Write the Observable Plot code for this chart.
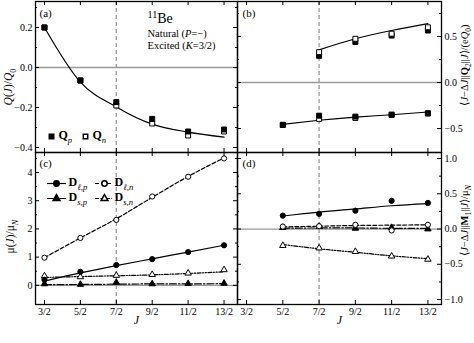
<!DOCTYPE html>
<html><head><meta charset="utf-8">
<script src="https://cdn.jsdelivr.net/npm/d3@7"></script>
<script src="https://cdn.jsdelivr.net/npm/@observablehq/plot@0.6"></script>
<style>
body{margin:0;background:#fff;}
#fig{position:relative;width:474px;height:343px;overflow:hidden;}
#fig svg{position:absolute;left:0;top:0;}
</style></head><body><div id="fig"></div>
<script>
// ---------- data ----------
const J = [1.5, 2.5, 3.5, 4.5, 5.5, 6.5];
const jLabels = ["3/2", "5/2", "7/2", "9/2", "11/2", "13/2"];

// (a) Q(J)/Q0
const qP  = [0.20, -0.065, -0.173, -0.257, -0.320, -0.310];
const qN  = [0.20, -0.065, -0.190, -0.280, -0.340, -0.320];
const qTh = [0.20, -0.073, -0.197, -0.283, -0.323, -0.348];

// (b) <J-dJ||Q2||J>/(eQ0)
const Jup   = [3.5, 4.5, 5.5, 6.5];
const bPup  = [0.29, 0.44, 0.51, 0.565];
const bNup  = [0.33, 0.475, 0.53, 0.60];
const bThUp = [0.355, 0.475, 0.565, 0.64];
const Jlo   = [2.5, 3.5, 4.5, 5.5, 6.5];
const bPlo  = [-0.46, -0.36, -0.37, -0.35, -0.335];
const bNlo  = [-0.46, -0.395, -0.385, -0.35, -0.335];
const bThLo = [-0.455, -0.41, -0.375, -0.35, -0.32];

// (c) mu(J)/muN
const dlp   = [0.20, 0.48, 0.72, 0.93, 1.18, 1.42];
const dlpTh = [0.15, 0.44, 0.70, 0.94, 1.18, 1.42];
const dln   = [0.98, 1.68, 2.32, 3.15, 3.85, 4.50];
const dlnTh = [0.98, 1.68, 2.36, 3.12, 3.86, 4.52];
const dsp   = [0.05, 0.03, 0.10, 0.05, 0.06, 0.07];
const dspTh = [0.02, 0.03, 0.04, 0.05, 0.05, 0.06];
const dsn   = [0.33, 0.30, 0.35, 0.38, 0.43, 0.55];
const dsnTh = [0.28, 0.31, 0.34, 0.37, 0.42, 0.48];

// (d) <J-dJ||M1||J>/muN
const Jd    = [2.5, 3.5, 4.5, 5.5, 6.5];
const mlp   = [0.19, 0.215, 0.26, 0.40, 0.37];
const mlpTh = [0.185, 0.24, 0.285, 0.33, 0.36];
const mln   = [0.035, 0.04, 0.06, -0.02, 0.06];
const mlnTh = [0.03, 0.04, 0.05, 0.055, 0.06];
const msp   = [0.02, 0.035, 0.01, 0.02, 0.0];
const mspTh = [0.01, 0.015, 0.015, 0.01, 0.01];
const msn   = [-0.235, -0.27, -0.32, -0.385, -0.43];
const msnTh = [-0.22, -0.28, -0.33, -0.38, -0.42];

// ---------- layout ----------
const W = 474, H = 343, X0 = 35, XM = 237, X1 = 441, Y0 = 1, YM = 152, Y1 = 304;
const xDomain = [1.25, 6.875];
const rows = (xs, ys) => xs.map((x, i) => ({x, y: ys[i]}));
const fmt1 = d => d.toFixed(1).replace("-", "\u2212");
const fmt0 = d => String(d);
const FONT = "Liberation Serif";
const GRAY = "#9a9a9a";
const DASH = {ln: "4,2", sp: "7,2,1.5,2", sn: "4,1.5,1.2,1.5,1.2,1.5"};

function panel({l, r, t, b, yDomain, yMajor, yMinor, yFormat, yAnchor, xLabels, marks}) {
  const pw = r - l, ph = b - t, tk = 4, tm = 2;
  const ticks = [
    Plot.tickY(yMajor, {y: d => d, insetRight: pw - tk}),
    Plot.tickY(yMajor, {y: d => d, insetLeft: pw - tk}),
    Plot.tickY(yMinor, {y: d => d, insetRight: pw - tm}),
    Plot.tickY(yMinor, {y: d => d, insetLeft: pw - tm}),
    Plot.tickX(J, {x: d => d, insetTop: ph - tk}),
    Plot.tickX(J, {x: d => d, insetBottom: ph - tk})
  ];
  const xOpt = {domain: xDomain};
  if (!xLabels) xOpt.axis = null;
  return Plot.plot({
    width: W, height: H,
    marginLeft: l, marginRight: W - r, marginTop: t, marginBottom: H - b,
    style: {background: "transparent", fontFamily: FONT, fontSize: "10px", color: "black", overflow: "visible"},
    x: xOpt,
    y: {domain: yDomain},
    marks: [
      Plot.ruleY([0], {stroke: GRAY, strokeWidth: 1.3}),
      Plot.ruleX([3.5], {stroke: GRAY, strokeWidth: 1.3, strokeDasharray: "4,3"}),
      ...marks,
      ...ticks,
      Plot.frame({stroke: "black", strokeWidth: 1.3}),
      Plot.axisY({ticks: yMajor, anchor: yAnchor, tickSize: 0, tickPadding: 3, tickFormat: yFormat, label: null, fontSize: 10}),
      xLabels ? Plot.axisX({ticks: J, tickSize: 0, tickPadding: 3, tickFormat: d => jLabels[J.indexOf(d)], label: null, fontSize: 10}) : null
    ]
  });
}

const sq = (data, filled) => Plot.dot(data, {x: "x", y: "y", symbol: "square", r: 2.8, fill: filled ? "black" : "white", stroke: "black", strokeWidth: 1});
const sym = (data, symbol, filled, r = 2.6) => Plot.dot(data, {x: "x", y: "y", symbol, r, fill: filled ? "black" : "white", stroke: "black", strokeWidth: 1});
const ln = (data, dash, curve = "monotone-x") => Plot.line(data, {x: "x", y: "y", curve, stroke: "black", strokeWidth: 1.2, strokeDasharray: dash});
const label = (s, o) => Plot.text([s], {text: d => d, textAnchor: "start", lineAnchor: "middle", ...o});

// (a)
const aDom = [-0.425, 0.33];
const pa = panel({
  l: X0, r: XM, t: Y0, b: YM, yDomain: aDom,
  yMajor: [-0.4, -0.2, 0, 0.2], yMinor: [-0.3, -0.1, 0.1, 0.3], yFormat: fmt1, yAnchor: "left",
  marks: [
    ln(rows(J, qTh), null),
    sq(rows(J, qN), false),
    sq(rows(J, qP), true),
    label("(a)", {frameAnchor: "top-left", dx: 4, dy: 12, fontSize: 11}),
    label("^{11}Be", {frameAnchor: "top-left", dx: 112, dy: 17, fontSize: 14}),
    label("Natural (<i>P</i>=\u2212)", {frameAnchor: "top-left", dx: 112, dy: 32, fontSize: 10.5}),
    label("Excited (<i>K</i>=3/2)", {frameAnchor: "top-left", dx: 112, dy: 44, fontSize: 10.5}),
    Plot.dot([0], {frameAnchor: "top-left", dx: 16, dy: 135, symbol: "square", r: 2.5, fill: "black", stroke: "black"}),
    label("<b>Q</b>_{<i>p</i>}", {frameAnchor: "top-left", dx: 23, dy: 134, fontSize: 12}),
    Plot.dot([0], {frameAnchor: "top-left", dx: 50, dy: 135, symbol: "square", r: 2.5, fill: "white", stroke: "black"}),
    label("<b>Q</b>_{<i>n</i>}", {frameAnchor: "top-left", dx: 57, dy: 134, fontSize: 12}),
    Plot.text(["<i>Q</i>(<i>J</i>)/<i>Q</i>_{0}"], {text: d => d, frameAnchor: "left", dx: -27, dy: 10, rotate: -90, fontSize: 11.5, textAnchor: "middle", lineAnchor: "middle"})
  ]
});

// (b)
const pb = panel({
  l: XM, r: X1, t: Y0, b: YM, yDomain: [-0.76, 0.88],
  yMajor: [-0.5, 0, 0.5], yMinor: [-0.25, 0.25, 0.75], yFormat: fmt1, yAnchor: "right",
  marks: [
    ln(rows(Jup, bThUp), null, "natural"),
    ln(rows(Jlo, bThLo), null, "natural"),
    sq(rows(Jup, bPup), true),
    sq(rows(Jup, bNup), false),
    sq(rows(Jlo, bNlo), false),
    sq(rows(Jlo, bPlo), true),
    label("(b)", {frameAnchor: "top-left", dx: 5, dy: 12, fontSize: 11}),
    Plot.text(["\u27E8<i>J</i>\u2212\u0394<i>J</i>||<b>Q</b>_{2}||<i>J</i>\u27E9/(e<i>Q</i>_{0})"], {text: d => d, frameAnchor: "right", dx: 23, dy: -12, rotate: -90, fontSize: 10.5, textAnchor: "middle", lineAnchor: "middle"})
  ]
});

// (c)
const cDom = [-0.68, 4.71];
const cTop = cDom[1];
const legRule = (dy, il, ir, dash) => Plot.ruleY([cTop], {dy, insetLeft: il, insetRight: 202 - ir, stroke: "black", strokeWidth: 1.2, strokeDasharray: dash});
const legDot = (dx, dy, symbol, filled) => Plot.dot([0], {frameAnchor: "top-left", dx, dy, symbol, r: symbol === "circle" ? 2.7 : 2.5, fill: filled ? "black" : "white", stroke: "black"});
const pc = panel({
  l: X0, r: XM, t: YM, b: Y1, yDomain: cDom,
  yMajor: [0, 1, 2, 3, 4], yMinor: [0.5, 1.5, 2.5, 3.5, 4.5], yFormat: fmt0, yAnchor: "left", xLabels: true,
  marks: [
    ln(rows(J, dspTh), DASH.sp),
    ln(rows(J, dsnTh), DASH.sn),
    ln(rows(J, dlnTh), DASH.ln),
    ln(rows(J, dlpTh), null),
    sym(rows(J, dsp), "triangle", true, 2.4),
    sym(rows(J, dsn), "triangle", false, 2.4),
    sym(rows(J, dln), "circle", false),
    sym(rows(J, dlp), "circle", true),
    label("(c)", {frameAnchor: "top-left", dx: 4, dy: 11, fontSize: 11}),
    legRule(31, 12, 31, null), legDot(21, 31, "circle", true),
    label("<b>D</b>_{<i>\u2113,p</i>}", {frameAnchor: "top-left", dx: 33, dy: 30, fontSize: 12}),
    legRule(31, 60, 77, DASH.ln), legDot(69, 31, "circle", false),
    label("<b>D</b>_{<i>\u2113,n</i>}", {frameAnchor: "top-left", dx: 79, dy: 30, fontSize: 12}),
    legRule(46, 12, 31, DASH.sp), legDot(21, 46, "triangle", true),
    label("<b>D</b>_{<i>s,p</i>}", {frameAnchor: "top-left", dx: 33, dy: 45, fontSize: 12}),
    legRule(46, 60, 77, DASH.sn), legDot(69, 46, "triangle", false),
    label("<b>D</b>_{<i>s,n</i>}", {frameAnchor: "top-left", dx: 79, dy: 45, fontSize: 12}),
    Plot.text(["\u03BC(<i>J</i>)/\u03BC_{<i>N</i>}"], {text: d => d, frameAnchor: "left", dx: -25, dy: 8, rotate: -90, fontSize: 11.5, textAnchor: "middle", lineAnchor: "middle"}),
    Plot.text(["J"], {text: d => d, frameAnchor: "bottom", dy: 19, fontSize: 12, fontStyle: "italic"})
  ]
});

// (d)
const pd = panel({
  l: XM, r: X1, t: YM, b: Y1, yDomain: [-1.07, 1.085],
  yMajor: [-1, -0.5, 0, 0.5, 1], yMinor: [-0.75, -0.25, 0.25, 0.75], yFormat: fmt1, yAnchor: "right", xLabels: true,
  marks: [
    ln(rows(Jd, mspTh), DASH.sp),
    ln(rows(Jd, mlnTh), DASH.ln),
    ln(rows(Jd, msnTh), DASH.sn),
    ln(rows(Jd, mlpTh), null),
    sym(rows(Jd, msp), "triangle", true, 2.4),
    sym(rows(Jd, mln), "circle", false),
    sym(rows(Jd, msn), "triangle", false, 2.4),
    sym(rows(Jd, mlp), "circle", true),
    label("(d)", {frameAnchor: "top-left", dx: 5, dy: 11, fontSize: 11}),
    Plot.text(["\u27E8<i>J</i>\u2212\u0394<i>J</i>||<b>M</b>_{1}||<i>J</i>\u27E9/\u03BC_{<i>N</i>}"], {text: d => d, frameAnchor: "right", dx: 23, dy: -8, rotate: -90, fontSize: 10.5, textAnchor: "middle", lineAnchor: "middle"}),
    Plot.text(["J"], {text: d => d, frameAnchor: "bottom", dy: 19, fontSize: 12, fontStyle: "italic"})
  ]
});

const fig = document.getElementById("fig");
[pa, pb, pc, pd].forEach(p => fig.appendChild(p));

// rich-text: turn simple markup into tspans (italic, bold, sub/superscripts)
const NS = "http://www.w3.org/2000/svg";
fig.querySelectorAll("text").forEach(t => {
  const s = t.textContent;
  if (!/[_^]\{|<[ib]>/.test(s)) return;
  const fs = parseFloat(getComputedStyle(t).fontSize) || 11;
  const parts = s.split(/(<i>|<\/i>|<b>|<\/b>|_\{|\^\{|\})/);
  let it = false, bd = false, shift = 0, cur = 0;
  t.textContent = "";
  for (const p of parts) {
    if (p === "<i>") it = true;
    else if (p === "</i>") it = false;
    else if (p === "<b>") bd = true;
    else if (p === "</b>") bd = false;
    else if (p === "_{") shift = 0.3 * fs;
    else if (p === "^{") shift = -0.38 * fs;
    else if (p === "}") shift = 0;
    else if (p) {
      const ts = document.createElementNS(NS, "tspan");
      ts.textContent = p;
      if (it) ts.setAttribute("font-style", "italic");
      if (bd) ts.setAttribute("font-weight", "bold");
      if (shift) ts.setAttribute("font-size", (fs * 0.72).toFixed(1));
      const dy = shift - cur;
      if (dy) ts.setAttribute("dy", dy.toFixed(2));
      cur = shift;
      t.appendChild(ts);
    }
  }
});
</script>
</body></html>
